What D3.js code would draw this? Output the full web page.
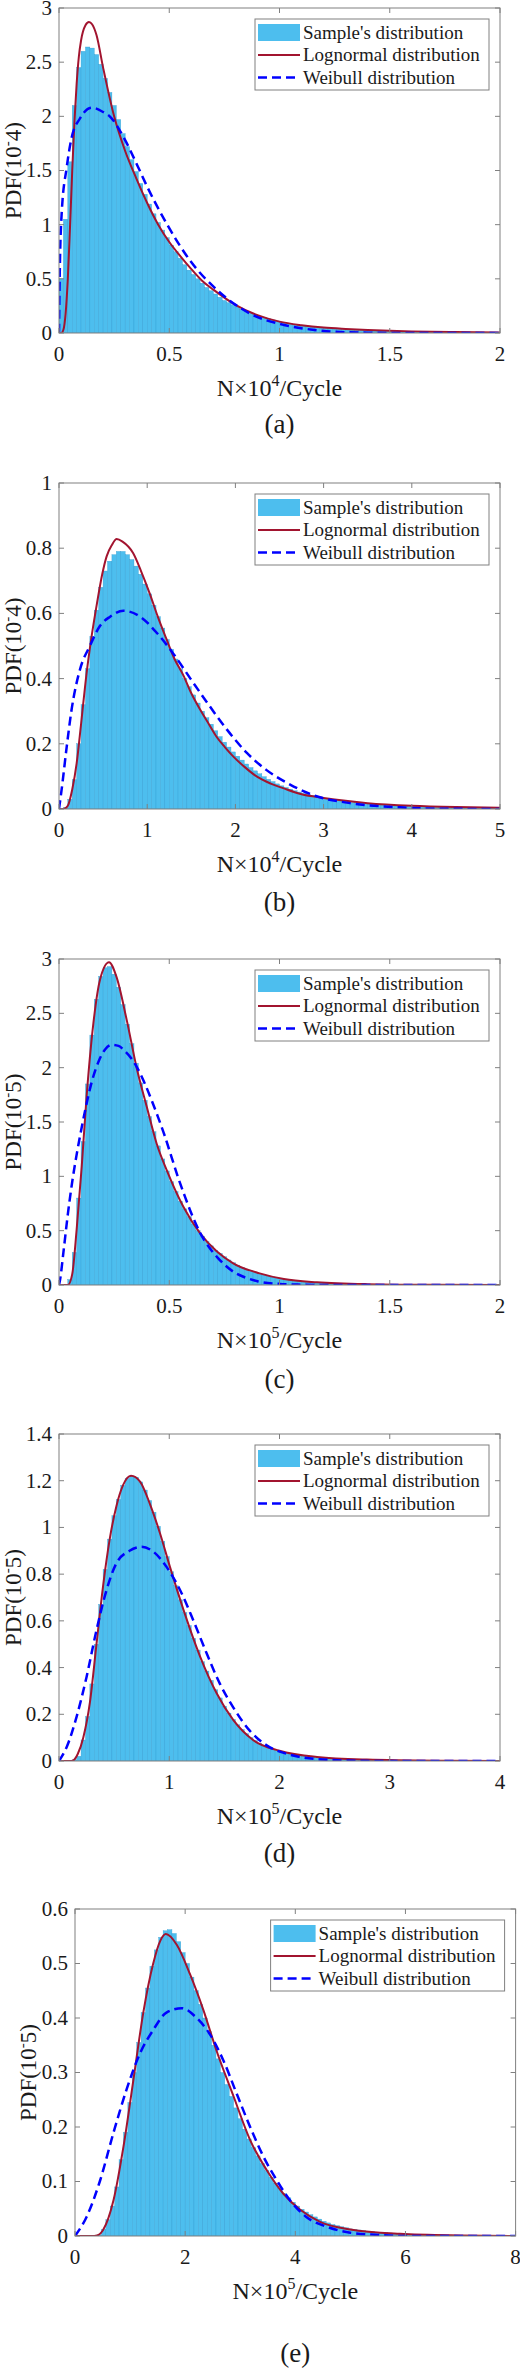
<!DOCTYPE html>
<html>
<head>
<meta charset="utf-8">
<script src="https://cdn.jsdelivr.net/npm/d3@7"></script>
<style>
  body { margin: 0; background: #fff; }
  text { font-family: "Liberation Serif", "Times New Roman", serif; fill: #1a1a1a; }
</style>
</head>
<body>
<svg id="fig" width="520" height="2370"></svg>
<script>
// ---- data ----
var legendNames = ["Sample's distribution", "Lognormal distribution", "Weibull distribution"];
var panelTags = ["(a)", "(b)", "(c)", "(d)", "(e)"];
var xExponents = ["4", "4", "5", "5", "5"];
var yExponents = ["4", "4", "5", "5", "5"];

// (a)
var xTicksA = [0, 0.5, 1, 1.5, 2];
var yTicksA = [0, 0.5, 1, 1.5, 2, 2.5, 3];
var binWidthA = 0.02;
var histA = [0.50,1.05,1.58,2.10,2.45,2.60,2.64,2.63,2.57,2.48,
  2.35,2.22,2.10,1.97,1.84,1.72,1.60,1.49,1.38,1.28,
  1.19,1.10,1.02,0.95,0.88,0.81,0.75,0.69,0.63,0.58,
  0.54,0.50,0.46,0.42,0.39,0.36,0.33,0.30,0.28,0.26,
  0.24,0.22,0.20,0.185,0.17,0.155,0.143,0.131,0.12,0.11,
  0.10,0.092,0.085,0.078,0.072,0.066,0.061,0.056,0.052,0.048,
  0.044,0.041,0.038,0.035,0.032,0.030,0.028,0.026,0.024,0.022,
  0.020,0.019,0.018,0.017,0.016,0.015,0.014,0.013,0.012,0.011,
  0.010,0.010,0.009,0.009,0.008,0.008,0.007,0.007,0.006,0.006,
  0.006,0.005,0.005,0.005,0.004,0.004,0.004,0.004,0.003,0.003];
var lognA = [[0,0],[0.01,0],[0.02,0.03],[0.03,0.18],[0.04,0.5],[0.05,0.98],[0.06,1.5],[0.07,1.95],
  [0.08,2.3],[0.09,2.55],[0.10,2.7],[0.12,2.84],[0.136,2.87],[0.15,2.85],[0.17,2.75],[0.20,2.45],
  [0.25,2.0],[0.30,1.68],[0.35,1.43],[0.40,1.20],[0.45,1.0],[0.50,0.84],[0.55,0.71],[0.60,0.59],
  [0.65,0.48],[0.70,0.40],[0.80,0.26],[0.90,0.165],[1.0,0.105],[1.1,0.072],[1.2,0.05],[1.3,0.037],
  [1.4,0.027],[1.5,0.02],[1.6,0.015],[1.8,0.009],[2.0,0.005]];
var wblA = [[0,0],[0.003,0.5],[0.012,1.1],[0.035,1.53],[0.057,1.8],[0.095,1.98],[0.148,2.08],
  [0.20,2.04],[0.23,2.0],[0.30,1.78],[0.35,1.57],[0.40,1.35],[0.488,1.01],[0.594,0.67],[0.715,0.40],
  [0.866,0.18],[1.02,0.074],[1.15,0.03],[1.24,0.012],[1.4,0.003],[1.6,0],[2.0,0]];

// (b)
var xTicksB = [0, 1, 2, 3, 4, 5];
var yTicksB = [0, 0.2, 0.4, 0.6, 0.8, 1];
var binWidthB = 0.05;
var histB = [0,0.004,0.03,0.09,0.20,0.32,0.43,0.53,0.61,0.68,
  0.73,0.76,0.78,0.79,0.79,0.78,0.765,0.745,0.72,0.69,
  0.66,0.625,0.59,0.555,0.52,0.49,0.46,0.43,0.40,0.375,
  0.35,0.325,0.30,0.28,0.26,0.24,0.222,0.205,0.19,0.175,
  0.162,0.15,0.138,0.127,0.117,0.108,0.099,0.091,0.084,0.077,
  0.071,0.066,0.061,0.056,0.052,0.048,0.044,0.041,0.038,0.035,
  0.032,0.030,0.028,0.026,0.024,0.022,0.020,0.019,0.018,0.016,
  0.015,0.014,0.013,0.012,0.011,0.010,0.0095,0.009,0.0085,0.008,
  0.0075,0.007,0.0065,0.006,0.0055,0.005,0.0048,0.0045,0.0042,0.004,
  0.0038,0.0036,0.0034,0.0032,0.003,0.0028,0.0026,0.0025,0.0024,0.0023];
var lognB = [[0,0],[0.05,0],[0.1,0.01],[0.15,0.06],[0.2,0.14],[0.25,0.26],[0.31,0.41],[0.37,0.53],
  [0.43,0.63],[0.49,0.72],[0.54,0.775],[0.6,0.81],[0.654,0.828],[0.72,0.82],[0.84,0.785],[0.93,0.73],
  [1.03,0.66],[1.12,0.59],[1.22,0.52],[1.31,0.46],[1.41,0.41],[1.5,0.355],[1.6,0.305],[1.7,0.26],
  [1.79,0.22],[1.88,0.19],[1.98,0.16],[2.1,0.13],[2.24,0.10],[2.4,0.078],[2.54,0.064],[2.75,0.045],
  [3.0,0.034],[3.25,0.025],[3.5,0.018],[4.0,0.01],[4.5,0.006],[5.0,0.004]];
var wblB = [[0,0],[0.03,0.06],[0.087,0.19],[0.14,0.30],[0.24,0.43],[0.35,0.50],[0.46,0.56],[0.58,0.59],
  [0.73,0.608],[0.92,0.59],[1.11,0.54],[1.30,0.475],[1.49,0.40],[1.67,0.33],[1.9,0.245],[2.13,0.172],
  [2.35,0.12],[2.62,0.075],[2.92,0.039],[3.3,0.018],[3.87,0.005],[4.3,0.001],[5,0]];

// (c)
var xTicksC = [0, 0.5, 1, 1.5, 2];
var yTicksC = [0, 0.5, 1, 1.5, 2, 2.5, 3];
var binWidthC = 0.02;
var histC = [0,0,0.05,0.3,0.8,1.32,1.85,2.3,2.63,2.84,
  2.92,2.93,2.86,2.74,2.58,2.40,2.22,2.04,1.86,1.70,
  1.55,1.41,1.28,1.16,1.05,0.95,0.86,0.77,0.70,0.63,
  0.56,0.50,0.45,0.40,0.36,0.32,0.29,0.26,0.23,0.205,
  0.183,0.163,0.146,0.13,0.116,0.104,0.093,0.083,0.074,0.066,
  0.059,0.053,0.047,0.042,0.038,0.034,0.030,0.027,0.024,0.022,
  0.020,0.018,0.016,0.014,0.013,0.012,0.011,0.010,0.009,0.008,
  0.007,0.0065,0.006,0.0055,0.005,0.0045,0.004,0.0037,0.0034,0.003,
  0.0028,0.0026,0.0024,0.0022,0.002,0.0018,0.0016,0.0015,0.0014,0.0013,
  0.0012,0.0011,0.001,0.001,0.0009,0.0009,0.0008,0.0008,0.0007,0.0007];
var lognC = [[0,0],[0.04,0],[0.06,0.1],[0.08,0.51],[0.103,1.09],[0.125,1.73],[0.156,2.41],[0.186,2.81],
  [0.227,2.97],[0.26,2.84],[0.307,2.44],[0.352,2.0],[0.398,1.64],[0.443,1.30],[0.488,1.06],[0.564,0.72],
  [0.64,0.475],[0.715,0.31],[0.79,0.20],[0.91,0.107],[1.02,0.055],[1.17,0.025],[1.4,0.008],[1.7,0.002],[2.0,0.001]];
var wblC = [[0,0],[0.005,0.05],[0.02,0.3],[0.04,0.65],[0.06,0.95],[0.08,1.2],[0.10,1.42],[0.12,1.62],
  [0.15,1.88],[0.18,2.06],[0.21,2.17],[0.24,2.21],[0.27,2.2],[0.30,2.15],[0.33,2.08],[0.36,1.98],
  [0.39,1.85],[0.42,1.70],[0.45,1.54],[0.48,1.37],[0.51,1.18],[0.54,0.99],[0.57,0.82],[0.60,0.66],
  [0.64,0.48],[0.68,0.35],[0.72,0.25],[0.76,0.17],[0.80,0.11],[0.85,0.065],[0.9,0.035],[1.0,0.01],
  [1.1,0.003],[1.2,0],[2.0,0]];

// (d)
var xTicksD = [0, 1, 2, 3, 4];
var yTicksD = [0, 0.2, 0.4, 0.6, 0.8, 1, 1.2, 1.4];
var binWidthD = 0.04;
var histD = [0,0,0,0.005,0.02,0.09,0.19,0.33,0.50,0.67,
  0.82,0.95,1.05,1.12,1.18,1.21,1.22,1.215,1.195,1.16,
  1.115,1.065,1.005,0.94,0.875,0.81,0.75,0.69,0.635,0.58,
  0.525,0.475,0.425,0.385,0.345,0.305,0.27,0.235,0.205,0.178,
  0.155,0.135,0.117,0.10,0.087,0.075,0.065,0.057,0.05,0.044,
  0.039,0.034,0.030,0.027,0.024,0.021,0.019,0.017,0.015,0.013,
  0.012,0.011,0.010,0.009,0.008,0.007,0.0065,0.006,0.0055,0.005,
  0.0045,0.004,0.0037,0.0034,0.003,0.0028,0.0026,0.0024,0.0022,0.002,
  0.0018,0.0017,0.0016,0.0015,0.0014,0.0013,0.0012,0.0011,0.001,0.001,
  0.0009,0.0009,0.0008,0.0008,0.0007,0.0007,0.0006,0.0006,0.0005,0.0005];
var lognD = [[0,0],[0.1,0],[0.13,0.003],[0.17,0.03],[0.22,0.10],[0.28,0.25],[0.34,0.50],[0.40,0.75],
  [0.46,0.95],[0.52,1.09],[0.58,1.18],[0.653,1.221],[0.735,1.196],[0.825,1.10],[0.916,0.975],[1.007,0.83],
  [1.13,0.646],[1.28,0.447],[1.43,0.29],[1.58,0.176],[1.76,0.09],[2.0,0.044],[2.34,0.017],[2.79,0.006],
  [3.5,0.001],[4,0]];
var wblD = [[0,0],[0.07,0.06],[0.16,0.19],[0.25,0.36],[0.34,0.56],[0.43,0.73],[0.52,0.846],[0.64,0.90],
  [0.75,0.917],[0.856,0.896],[0.977,0.83],[1.1,0.73],[1.22,0.60],[1.34,0.46],[1.46,0.33],[1.58,0.23],
  [1.73,0.13],[1.88,0.068],[2.1,0.026],[2.34,0.008],[2.7,0.001],[3,0],[4,0]];

// (e)
var xTicksE = [0, 2, 4, 6, 8];
var yTicksE = [0, 0.1, 0.2, 0.3, 0.4, 0.5, 0.6];
var binWidthE = 0.08;
var histE = [0,0,0,0,0,0.002,0.012,0.03,0.055,0.09,
  0.14,0.19,0.245,0.30,0.355,0.41,0.455,0.495,0.525,0.548,
  0.56,0.562,0.555,0.54,0.52,0.50,0.475,0.45,0.425,0.40,
  0.375,0.35,0.325,0.30,0.278,0.256,0.235,0.215,0.196,0.178,
  0.162,0.147,0.133,0.12,0.108,0.097,0.087,0.078,0.07,0.062,
  0.055,0.049,0.044,0.039,0.035,0.031,0.027,0.024,0.021,0.019,
  0.017,0.015,0.013,0.012,0.011,0.010,0.009,0.008,0.007,0.0065,
  0.006,0.0055,0.005,0.0045,0.004,0.0037,0.0034,0.0031,0.0028,0.0026,
  0.0024,0.0022,0.002,0.0018,0.0016,0.0015,0.0014,0.0013,0.0012,0.0011,
  0.001,0.0009,0.0008,0.0008,0.0007,0.0007,0.0006,0.0006,0.0005,0.0005];
var lognE = [[0,0],[0.3,0],[0.4,0.001],[0.51,0.011],[0.70,0.066],[0.88,0.164],[1.06,0.286],[1.24,0.41],
  [1.42,0.50],[1.55,0.542],[1.65,0.554],[1.85,0.534],[2.09,0.48],[2.33,0.415],[2.57,0.34],[2.88,0.256],
  [3.18,0.176],[3.48,0.121],[3.78,0.078],[4.09,0.048],[4.45,0.026],[5.0,0.012],[5.9,0.004],[7,0.001],[8,0]];
var wblE = [[0,0],[0.21,0.035],[0.45,0.10],[0.70,0.19],[0.94,0.27],[1.18,0.335],[1.42,0.378],[1.66,0.41],
  [1.94,0.418],[2.21,0.40],[2.45,0.37],[2.69,0.323],[2.94,0.26],[3.18,0.20],[3.42,0.146],[3.66,0.103],
  [3.9,0.066],[4.2,0.035],[4.57,0.017],[5.0,0.006],[5.5,0.002],[6,0],[8,0]];

// ---- layout ----
var boxes = [
  {left: 59, right: 500, top: 8, bottom: 333, tagDy: 100, ylabX: 21},
  {left: 59, right: 500, top: 483, bottom: 809, tagDy: 102, ylabX: 21},
  {left: 59, right: 500, top: 959, bottom: 1285, tagDy: 103, ylabX: 21},
  {left: 59, right: 500, top: 1434, bottom: 1761, tagDy: 101, ylabX: 21},
  {left: 75, right: 515.6, top: 1909, bottom: 2236, tagDy: 126, ylabX: 36}
];
var panels = [
  {hist: histA, bw: binWidthA, logn: lognA, wbl: wblA, xt: xTicksA, yt: yTicksA},
  {hist: histB, bw: binWidthB, logn: lognB, wbl: wblB, xt: xTicksB, yt: yTicksB},
  {hist: histC, bw: binWidthC, logn: lognC, wbl: wblC, xt: xTicksC, yt: yTicksC},
  {hist: histD, bw: binWidthD, logn: lognD, wbl: wblD, xt: xTicksD, yt: yTicksD},
  {hist: histE, bw: binWidthE, logn: lognE, wbl: wblE, xt: xTicksE, yt: yTicksE}
];

var svg = d3.select("#fig");
var barFill = "#4dbeee", barEdge = "#2f9bd2";
var redCol = "#a2142f", blueCol = "#0000ff", axisCol = "#808080";
var tickLen = 5;

panels.forEach(function(p, k) {
  var b = boxes[k];
  var x = d3.scaleLinear().domain([p.xt[0], p.xt[p.xt.length - 1]]).range([b.left, b.right]);
  var y = d3.scaleLinear().domain([p.yt[0], p.yt[p.yt.length - 1]]).range([b.bottom, b.top]);
  var g = svg.append("g");

  var clipId = "clip" + k;
  g.append("clipPath").attr("id", clipId).append("rect")
    .attr("x", b.left).attr("y", b.top).attr("width", b.right - b.left).attr("height", b.bottom - b.top);
  var plot = g.append("g").attr("clip-path", "url(#" + clipId + ")");

  // histogram bars
  plot.selectAll("rect.bar").data(p.hist)
    .enter().append("rect")
    .attr("class", "bar")
    .attr("x", function(d, i) { return x(i * p.bw); })
    .attr("width", x(p.bw) - x(0))
    .attr("y", function(d) { return y(d); })
    .attr("height", function(d) { return y(0) - y(d); })
    .attr("fill", barFill)
    .attr("stroke", function(d) { return d > 0 ? barEdge : "none"; })
    .attr("stroke-width", 0.35);

  var line = d3.line()
    .x(function(d) { return x(d[0]); })
    .y(function(d) { return y(d[1]); })
    .curve(d3.curveMonotoneX);

  plot.append("path").datum(p.logn).attr("d", line)
    .attr("fill", "none").attr("stroke", redCol).attr("stroke-width", 2);
  plot.append("path").datum(p.wbl).attr("d", line)
    .attr("fill", "none").attr("stroke", blueCol).attr("stroke-width", 2.5)
    .attr("stroke-dasharray", "9,5");

  // box and ticks (inside, all four sides)
  g.append("rect").attr("x", b.left).attr("y", b.top)
    .attr("width", b.right - b.left).attr("height", b.bottom - b.top)
    .attr("fill", "none").attr("stroke", axisCol).attr("stroke-width", 1);

  p.xt.forEach(function(t) {
    g.append("line").attr("x1", x(t)).attr("x2", x(t)).attr("y1", b.bottom).attr("y2", b.bottom - tickLen)
      .attr("stroke", axisCol);
    g.append("line").attr("x1", x(t)).attr("x2", x(t)).attr("y1", b.top).attr("y2", b.top + tickLen)
      .attr("stroke", axisCol);
    g.append("text").attr("x", x(t)).attr("y", b.bottom + 28)
      .attr("text-anchor", "middle").attr("font-size", 21).text(String(t));
  });
  p.yt.forEach(function(t) {
    g.append("line").attr("x1", b.left).attr("x2", b.left + tickLen).attr("y1", y(t)).attr("y2", y(t))
      .attr("stroke", axisCol);
    g.append("line").attr("x1", b.right).attr("x2", b.right - tickLen).attr("y1", y(t)).attr("y2", y(t))
      .attr("stroke", axisCol);
    g.append("text").attr("x", b.left - 7).attr("y", y(t)).attr("dy", "0.33em")
      .attr("text-anchor", "end").attr("font-size", 21).text(String(t));
  });

  // axis labels
  var cx = (b.left + b.right) / 2, cy = (b.top + b.bottom) / 2;
  var xl = g.append("text").attr("x", cx).attr("y", b.bottom + 63)
    .attr("text-anchor", "middle").attr("font-size", 24);
  xl.append("tspan").text("N\u00d710");
  xl.append("tspan").attr("font-size", 16).attr("dy", -10).text(xExponents[k]);
  xl.append("tspan").attr("dy", 10).text("/Cycle");

  var yl = g.append("text").attr("transform", "translate(" + b.ylabX + "," + cy + ") rotate(-90)")
    .attr("text-anchor", "middle").attr("font-size", 23);
  yl.append("tspan").text("PDF(10");
  yl.append("tspan").attr("font-size", 15).attr("dy", -9).text("-");
  yl.append("tspan").attr("dy", 9).text(yExponents[k] + ")");

  g.append("text").attr("x", cx).attr("y", b.bottom + b.tagDy)
    .attr("text-anchor", "middle").attr("font-size", 27).text(panelTags[k]);

  // legend
  var lw = 234, lh = 71;
  var lx = b.right - 11 - lw, ly = b.top + 11;
  var lg = g.append("g").attr("transform", "translate(" + lx + "," + ly + ")");
  lg.append("rect").attr("width", lw).attr("height", lh)
    .attr("fill", "#fff").attr("stroke", axisCol).attr("stroke-width", 1);
  var rows = [13.5, 36, 58.5];
  lg.append("rect").attr("x", 3).attr("y", rows[0] - 8.5).attr("width", 42).attr("height", 17)
    .attr("fill", barFill);
  lg.append("line").attr("x1", 3).attr("x2", 45).attr("y1", rows[1]).attr("y2", rows[1])
    .attr("stroke", redCol).attr("stroke-width", 2);
  lg.append("line").attr("x1", 3).attr("x2", 45).attr("y1", rows[2]).attr("y2", rows[2])
    .attr("stroke", blueCol).attr("stroke-width", 2.5).attr("stroke-dasharray", "9,5");
  legendNames.forEach(function(name, i) {
    lg.append("text").attr("x", 48).attr("y", rows[i]).attr("dy", "0.33em")
      .attr("font-size", 19).text(name);
  });
});
</script>
</body>
</html>
